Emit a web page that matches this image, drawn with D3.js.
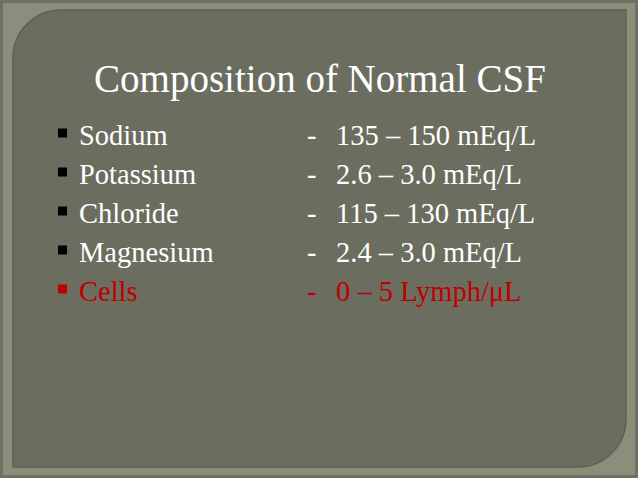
<!DOCTYPE html>
<html><head><meta charset="utf-8">
<script src="https://cdn.jsdelivr.net/npm/d3@7"></script>
<style>body{margin:0;background:#8b8e7b}</style></head>
<body><svg id="s" width="638" height="478"></svg>
<script>
const title = "Composition of Normal CSF";
const components = ["Sodium","Potassium","Chloride","Magnesium","Cells"];
const ranges = ["135 – 150 mEq/L","2.6 – 3.0 mEq/L","115 – 130 mEq/L","2.4 – 3.0 mEq/L","0 – 5 Lymph/μL"];
const highlighted = [false,false,false,false,true];
const FONT = "'Liberation Serif', 'Times New Roman', serif";

const svg = d3.select("#s");
svg.append("rect").attr("width",638).attr("height",478).attr("fill","#8b8e7b");
svg.append("rect").attr("x",1.5).attr("y",1.5).attr("width",635).attr("height",475).attr("fill","none").attr("stroke","#6e7062").attr("stroke-width",3);
const L=13,T=10,R=626,B=467,r=48;
const p=d3.path();
p.moveTo(L+r,T);p.lineTo(R,T);p.lineTo(R,B-r);p.arcTo(R,B,R-r,B,r);p.lineTo(L,B);p.lineTo(L,T+r);p.arcTo(L,T,L+r,T,r);p.closePath();
svg.append("path").attr("d",p.toString()).attr("fill","#6b6d5f").attr("stroke","#5e6053").attr("stroke-width",1.5);

svg.append("text").attr("x",320).attr("y",92).attr("text-anchor","middle")
  .style("font-family",FONT).attr("font-size",39).attr("fill","#fff").text(title);

const y=d3.scaleBand().domain(d3.range(components.length)).range([115,310]);
const g=svg.selectAll("g.row").data(components).join("g").attr("class","row")
  .attr("transform",(d,i)=>`translate(0,${y(i)+y.bandwidth()/2+10})`)
  .style("font-family",FONT).attr("font-size",28.5)
  .attr("fill",(d,i)=>highlighted[i]?"#c00000":"#fff");
g.append("rect").attr("x",58).attr("y",-16).attr("width",9).attr("height",9).attr("fill",(d,i)=>highlighted[i]?"#c00000":"#000");
g.append("text").attr("x",79).text(d=>d);
g.append("text").attr("x",307).text("-");
g.append("text").attr("x",336).text((d,i)=>ranges[i]);
</script></body></html>
